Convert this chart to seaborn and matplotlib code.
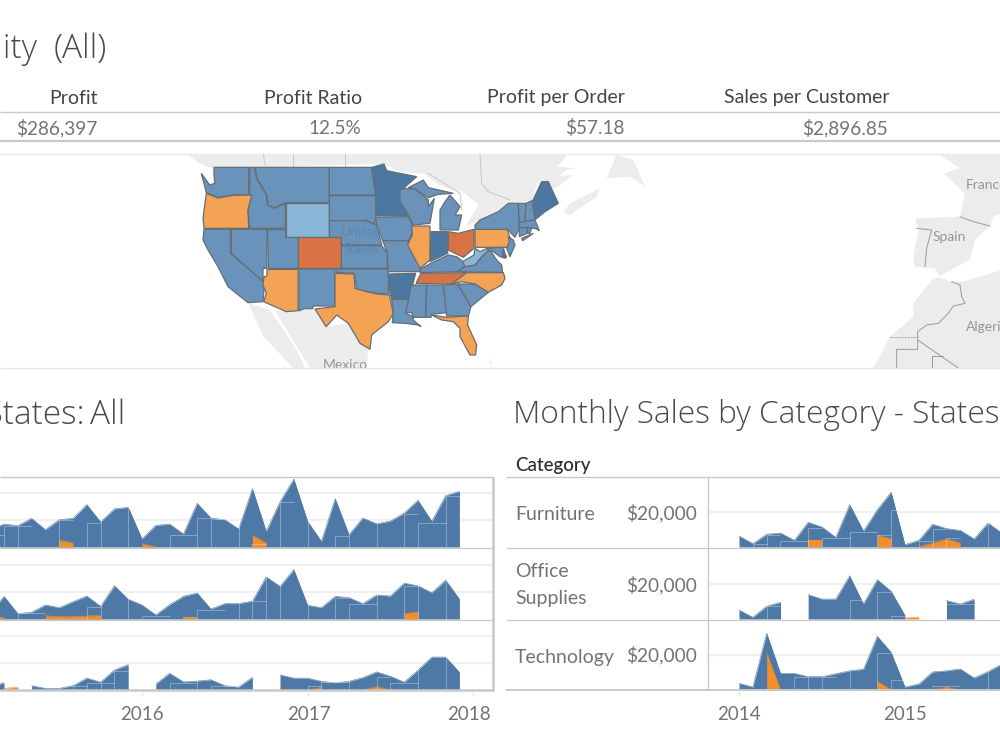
"""Rebuild the cropped superstore overview dashboard with seaborn."""

import matplotlib
matplotlib.use("Agg")
import matplotlib.pyplot as plt
import numpy as np
import seaborn as sns

NAN = float("nan")

# monthly series, in thousands of dollars
LEFT_MONTHS = list(range(-11, 24))  # 0 is Jan 2016
LEFT_BLUE_1 = [6.4, 8.5, 7.9, 10.6, 6.4, 10.1, 10.6, 15.7, 9.3, 14.1, 14.7, 3.0, 8.0, 8.5, 4.8, 16.2, 10.7, 10.1,
               6.7, 21.6, 5.8, 16.7, 25.2, 9.5, 2.1, 17.9, 4.6, 10.7, 8.6, 9.6, 12.6, 17.3, 9.5, 19.0, 20.6]
LEFT_BLUE_2 = [2.2, 8.4, 2.0, 2.5, 5.2, 4.2, 6.4, 8.5, 4.7, 12.3, 7.3, 5.2, 1.5, 5.3, 8.4, 9.6, 3.7, 5.7,
               5.7, 6.6, 15.6, 12.1, 18.3, 5.1, 4.2, 8.4, 7.9, 5.7, 8.9, 8.5, 13.3, 12.3, 9.7, 14.4, 7.4]
LEFT_BLUE_3 = [1.2, 2.7, NAN, 1.6, 0.6, 0.6, 1.6, 4.4, 2.9, 7.4, 9.4, NAN, 2.2, 6.2, 3.0, 3.3, 3.8, 1.6,
               1.1, 4.7, NAN, 5.6, 4.4, 4.4, 3.2, 2.7, 3.2, 4.6, 6.7, 5.1, 2.9, 7.4, 12.2, 12.2, 6.6]
LEFT_ORANGE_1 = {-6: 2.5, -5: 1.5, 0: 1.2, 1: 0.0, 8: 4.3, 9: 1.5}
LEFT_ORANGE_2 = {-11: 0.3, -10: 0.7, -7: 1.2, -6: 0.9, -5: 0.9, -4: 1.1, -3: 1.4, 3: 0.9, 4: 0.9, 19: 2.0, 20: 2.7}
LEFT_ORANGE_3 = {-10: 0.6, -9: 1.1, 12: 0.0, 13: 0.9, 16: 0.0, 17: 1.2, 18: 0.0}

RIGHT_MONTHS = list(range(0, 20))  # 0 is Jan 2014
RIGHT_BLUE_1 = [6.3, 1.9, 7.3, 8.0, 3.8, 14.1, 11.4, 5.5, 24.2, 9.1, 21.3, 31.3, 1.3, 3.8, 13.0, 10.5, 9.5, 4.6, 13.7, 8.0]
RIGHT_BLUE_2 = [5.1, 1.0, 7.3, 9.5, NAN, 13.9, 11.4, 11.4, 24.7, 8.6, 22.5, 15.8, 2.1, NAN, NAN, 10.5, 8.6, 11.3, NAN, NAN]
RIGHT_BLUE_3 = [3.8, 1.7, 32.4, 9.5, 9.5, 7.6, 7.6, 9.3, 11.0, 11.8, 30.7, 21.5, 1.7, 3.4, 10.3, 11.0, 12.0, 6.9, 10.5, 14.7]
RIGHT_ORANGE_1 = {5: 3.8, 6: 3.8, 10: 6.7, 11: 4.7, 13: 0.0, 14: 2.3, 15: 4.6, 16: 2.3}
RIGHT_ORANGE_2 = {12: 0.6, 13: 1.1}
RIGHT_ORANGE_3 = {2: 21.0, 3: 0.0, 10: 5.0, 11: 0.0, 14: 0.0, 15: 1.5, 16: 0.0}

# thin comparison steps: start month, end month, level
LEFT_REF_1 = [(-11, -10, 4.3), (-10, -9, 7.9), (-9, -8, 7.9), (-6, -5, 10.1), (-4, -3, 8.9), (-3, -1, 30), (-1, 0, 30), (2, 4, 4.6),
              (4, 5, 10.7), (5, 7, 10.3), (7, 8, 30), (8, 9, 1.2), (10, 11, 16.7), (12, 14, 30),
              (14, 15, 4.0), (15, 17, 30), (17, 19, 30), (19, 20, 12.2), (20, 22, 8.9), (22, 23, 19.0)]
LEFT_REF_2 = [(-9, -7, 2.2), (-4, -3, 4.6), (-3, -1, 30), (-1, 0, 30), (0, 2, 1.2), (4, 6, 3.5), (7, 8, 30), (8, 9, 6.8), (9, 10, 30),
              (10, 12, 30), (12, 14, 30), (14, 15, 7.8), (15, 17, 5.6), (17, 19, 30), (19, 20, 12.3), (20, 22, 30), (22, 23, 30)]
LEFT_REF_3 = [(-5, -4, 1.6), (-4, -3, 2.7), (-3, -2, 2.7), (-2, -1, 7.1), (2, 4, 2.7), (4, 5, 30), (5, 7, 1.6), (12, 13, 1.4),
              (13, 15, 3.0), (15, 16, 30), (17, 18, 4.8), (18, 20, 2.6), (20, 22, 30), (22, 23, 30)]
RIGHT_REF_1 = [(1, 2, 1.9), (2, 3, 7.0), (3, 5, 3.6), (5, 6, 10.9), (6, 8, 5.1), (8, 10, 8.6), (10, 11, 6.7),
               (11, 12, 21.3), (13, 14, 3.4), (14, 15, 10.3), (15, 16, 5.1), (18, 19, 50)]
RIGHT_REF_2 = [(2, 3, 7.2), (8, 9, 11.0), (10, 11, 15.4), (11, 12, 1.5), (15, 17, 8.6)]
RIGHT_REF_3 = [(4, 5, 7.2), (5, 6, 50), (6, 7, 7.2), (8, 9, 50), (10, 11, 21.1), (11, 12, 5.7), (14, 15, 2.1), (15, 16, 2.1), (18, 19, 50)]

LEFT_GRID = [10, 20]
RIGHT_GRID = [20]
LEFT_YEARS = ["2016", "2017", "2018"]
RIGHT_YEARS = ["2014", "2015"]
CATEGORIES = ["Furniture", "Office\nSupplies", "Technology"]
SCALE_LABEL = "$20,000"

KPI_NAMES = ["Profit", "Profit Ratio", "Profit per Order", "Sales per Customer"]
KPI_VALUES = ["$286,397", "12.5%", "$57.18", "$2,896.85"]

# map outlines, in map units (west block and east block read separately)
STATES_WEST = {
    "WA": [(102, 52), (206, 52), (206, 135), (159, 135), (114, 142), (79, 128), (64, 70), (89, 105), (104, 100), (102, 75)],
    "OR": [(79, 130), (114, 144), (159, 136), (216, 135), (204, 180), (206, 235), (72, 235), (69, 205)],
    "CA": [(72, 238), (151, 238), (151, 310), (254, 398), (249, 455), (204, 458), (144, 410), (114, 350), (84, 300), (69, 270)],
    "NV": [(154, 238), (261, 238), (261, 355), (249, 355), (249, 395), (154, 310)],
    "ID": [(209, 52), (224, 52), (229, 85), (259, 135), (262, 165), (284, 175), (316, 160), (316, 235), (209, 235), (204, 180),
           (216, 135), (209, 135)],
    "MT": [(226, 52), (448, 52), (448, 158), (316, 158), (284, 173), (264, 165), (261, 135), (231, 85)],
    "WY": [(318, 160), (448, 160), (448, 262), (318, 262)],
    "UT": [(261, 238), (316, 238), (316, 262), (355, 262), (355, 355), (263, 355)],
    "CO": [(355, 262), (484, 262), (484, 355), (355, 355)],
    "AZ": [(261, 358), (354, 358), (354, 482), (319, 485), (251, 455), (259, 430), (249, 405), (252, 380), (261, 378)],
    "NM": [(357, 357), (465, 357), (465, 468), (400, 468), (398, 476), (372, 476), (357, 483)],
    "ND": [(448, 52), (575, 52), (587, 135), (448, 135)],
    "SD": [(448, 137), (587, 137), (587, 200), (585, 222), (560, 212), (448, 212)],
    "NE": [(448, 212), (555, 212), (590, 225), (605, 285), (484, 285), (484, 262), (448, 262)],
    "KS": [(484, 287), (605, 287), (622, 310), (622, 355), (484, 355)],
    "OK": [(468, 357), (622, 357), (625, 365), (625, 432), (590, 430), (530, 418), (522, 370), (468, 367)],
    "TX": [(465, 370), (522, 372), (525, 415), (560, 425), (590, 432), (628, 435), (640, 490), (625, 515), (575, 555), (570, 598),
           (540, 580), (505, 520), (470, 495), (448, 520), (438, 530), (405, 477), (465, 470)],
    "MN": [(575, 52), (612, 42), (620, 62), (710, 80), (665, 120), (660, 150), (685, 198), (590, 198), (587, 135)],
    "IA": [(587, 202), (685, 200), (703, 238), (685, 272), (608, 272), (590, 225)],
    "MO": [(608, 272), (685, 272), (705, 325), (722, 350), (718, 365), (625, 365), (622, 310)],
}
STATES_EAST = {
    "AR": [(-35, 372), (47, 370), (27, 445), (-25, 445), (-30, 430)],
    "LA": [(-25, 448), (27, 448), (17, 490), (40, 500), (40, 510), (63, 530), (55, 525), (15, 520), (-23, 518), (-20, 480)],
    "MS": [(33, 405), (80, 405), (77, 502), (40, 502), (35, 488), (17, 488), (27, 445)],
    "AL": [(80, 405), (130, 405), (140, 488), (95, 493), (93, 502), (77, 502)],
    "WI": [(0, 120), (15, 115), (45, 117), (85, 150), (85, 170), (103, 145), (90, 220), (40, 225), (25, 195), (0, 155)],
    "MI_N": [(25, 113), (70, 90), (85, 113), (160, 130), (115, 133), (85, 143), (45, 117)],
    "MI_S": [(120, 240), (120, 180), (135, 155), (150, 135), (180, 170), (165, 195), (185, 195), (175, 240)],
    "IL": [(35, 228), (90, 228), (90, 330), (60, 355), (23, 285), (37, 255)],
    "IN": [(93, 245), (143, 245), (143, 310), (90, 335)],
    "OH": [(145, 245), (175, 250), (222, 238), (222, 295), (190, 322), (145, 300)],
    "KY": [(65, 355), (92, 340), (145, 315), (170, 320), (190, 335), (195, 350), (172, 365), (60, 368)],
    "VA": [(172, 365), (195, 350), (225, 345), (255, 310), (270, 300), (290, 330), (305, 345), (308, 367)],
    "TN": [(48, 400), (63, 370), (200, 368), (155, 402)],
    "GA": [(130, 405), (173, 402), (213, 470), (205, 498), (140, 498)],
    "SC": [(173, 402), (225, 402), (265, 427), (213, 470)],
    "NC": [(155, 402), (200, 368), (310, 368), (315, 385), (305, 405), (265, 427), (225, 402), (185, 395)],
    "WV": [(188, 335), (222, 315), (225, 295), (240, 305), (262, 295), (268, 298), (245, 320), (225, 345), (195, 350)],
    "PA": [(225, 238), (322, 238), (330, 265), (325, 292), (225, 292)],
    "NY": [(225, 238), (225, 225), (240, 210), (295, 185), (325, 160), (355, 160), (358, 235), (345, 262), (322, 238)],
    "VT": [(355, 160), (378, 160), (375, 215), (358, 217)],
    "NH": [(378, 160), (395, 152), (405, 208), (375, 215)],
    "ME": [(398, 152), (425, 95), (445, 95), (475, 160), (435, 185), (407, 208)],
    "MA": [(358, 217), (405, 210), (418, 242), (405, 235), (358, 232)],
    "CT": [(358, 234), (380, 232), (382, 250), (358, 260)],
    "RI": [(382, 232), (395, 235), (390, 250), (383, 250)],
    "LI": [(365, 265), (400, 250), (368, 272)],
    "NJ": [(325, 260), (340, 270), (345, 285), (330, 320), (320, 295), (328, 275)],
    "MD": [(262, 295), (310, 292), (318, 325), (300, 320), (280, 305), (265, 300)],
    "DE": [(307, 300), (320, 320), (308, 323)],
    "FL": [(95, 495), (140, 502), (205, 498), (203, 525), (230, 585), (227, 615), (210, 615), (180, 560), (180, 535), (160, 515),
           (125, 510)],
}
# 0 darkest blue .. 2 lightest blue, 3 orange, 4 dark orange; the rest are mid blue
STATE_TIERS = {"MN": 0, "AR": 0, "IN": 0, "ME": 0, "DE": 0, "WY": 2, "WV": 2, "OR": 3, "AZ": 3, "TX": 3, "IL": 3, "PA": 3,
               "NC": 3, "FL": 3, "CO": 4, "OH": 4, "TN": 4}

LAND_WEST = [
    [(20, 12), (60, 40), (95, 55), (612, 42), (660, 65), (735, 72), (770, 100), (810, 118), (850, 125), (895, 165), (860, 225),
     (835, 238), (910, 205), (960, 180), (995, 160), (1055, 150), (1075, 95), (1100, 80), (1135, 80), (1160, 60), (1190, 55),
     (1130, 50), (1150, 30), (1160, 12)],
    [(1075, 100), (1100, 80), (1180, 75), (1140, 105), (1105, 125), (1130, 163)],
    [(1150, 185), (1170, 160), (1260, 115), (1250, 140), (1170, 195)],
    [(1280, 85), (1310, 15), (1360, 30), (1395, 110), (1350, 80)],
    [(285, 482), (320, 483), (400, 476), (440, 530), (505, 520), (540, 575), (565, 598), (560, 654), (390, 654)],
    [(205, 460), (270, 480), (350, 600), (375, 654), (340, 654), (250, 560)],
    [(925, 620), (938, 645), (930, 640)],
]
LAND_EUROPE = [
    [(265, 12), (450, 12), (450, 190), (430, 200), (420, 228), (370, 215), (330, 200), (345, 130), (280, 70), (330, 55)],
    [(195, 205), (330, 200), (370, 215), (420, 228), (375, 270), (360, 330), (310, 355), (270, 378), (255, 355), (195, 350),
     (190, 320), (205, 240)],
    [(270, 382), (300, 395), (340, 395), (450, 362), (450, 654), (70, 654), (100, 600), (120, 560), (190, 500), (190, 460), (250, 385)],
]
BORDER_LINES = [
    [(250, 12), (255, 45)], [(338, 12), (338, 48)], [(495, 12), (495, 48)],
    [(900, 12), (905, 100), (925, 125), (990, 150)],
    [(745, 70), (840, 130), (845, 180)],
]
BORDER_LINES_EUROPE = [
    [(330, 200), (370, 215), (420, 228)],
    [(200, 235), (245, 240), (230, 295), (225, 350)],
    [(305, 395), (330, 405), (335, 440), (345, 460), (310, 468), (295, 490), (265, 520), (230, 525), (203, 545), (203, 598),
     (140, 598), (140, 654)],
    [(203, 570), (325, 654)],
    [(245, 654), (245, 618), (280, 618)],
]
MAP_LABELS = ["Mexico", "Spain", "France", "Algeria"]

BLUE = "#4e79a7"
ORANGE = "#f28e2b"
TIER_COLORS = ["#4b77a1", "#6a93bb", "#8ab6d9", "#f4a254", "#d97343"]
RULE = "#c8c8c8"
TEXT = "#737373"
DARK_TEXT = "#444444"
UI_FONT = ["Lato", "DejaVu Sans"]
TITLE_FONT = ["Open Sans", "DejaVu Sans"]


def px_axes(fig, left, top, right, bottom, **kwargs):
    """Axes placed by its pixel edges on the 1000x750 canvas."""
    return fig.add_axes([left / 1000, 1 - bottom / 750, (right - left) / 1000, (bottom - top) / 750], **kwargs)


def draw_area(ax, months, values, color, zorder):
    months = np.asarray(months, dtype=float)
    values = np.asarray(values, dtype=float)
    ok = ~np.isnan(values)
    breaks = np.flatnonzero(np.diff(ok.astype(int)))
    for run in np.split(np.arange(len(values)), breaks + 1):
        if not ok[run[0]] or len(run) < 2:
            continue
        ax.fill_between(months[run], 0, values[run], color=color, linewidth=0, zorder=zorder)
        sns.lineplot(x=months[run], y=values[run], ax=ax, color=color, linewidth=0.4, errorbar=None, zorder=zorder)


def draw_panel(fig, box, xlim, scale, months, blue, orange, ref, grid):
    left, top, right, bottom = box
    ax = px_axes(fig, left, top, right, bottom)
    ax.patch.set_alpha(0)
    ax.set_xlim(*xlim)
    ax.set_ylim(0, (bottom - top) / scale)
    ax.set_yticks(grid)
    ax.set_xticks([])
    ax.grid(axis="y", color="#f0f0f0", linewidth=1.6)
    ax.set_axisbelow(True)
    ax.tick_params(left=False, labelleft=False)
    sns.despine(ax=ax, left=True, bottom=True)
    draw_area(ax, months, blue, BLUE, 2)
    # orange pieces sit in separate runs of consecutive months
    keys = sorted(orange)
    full = [orange.get(m, NAN) for m in range(keys[0], keys[-1] + 1)]
    draw_area(ax, range(keys[0], keys[-1] + 1), full, ORANGE, 3)
    for start, end, level in ref:
        ax.hlines(level, start, end, color="white", alpha=0.32, linewidth=0.7, zorder=4)
        ax.vlines(start, 0, level, color="white", alpha=0.32, linewidth=0.7, zorder=4)
    ax.set_xlabel("")
    ax.set_ylabel("")
    return ax


def draw_map(fig):
    ax = px_axes(fig, 0, 154, 1000, 368)
    # map units are 3 per pixel, the east block starts 660 further along, Europe 2010
    ax.set_xlim(-540, 2460)
    ax.set_ylim(654, 12)
    ax.axis("off")
    land = "#ececec"
    for shape in LAND_WEST:
        ax.fill(*zip(*shape), color=land, linewidth=0, zorder=1)
    for shape in LAND_EUROPE:
        xs, ys = zip(*shape)
        ax.fill(np.array(xs) + 2010, ys, color=land, linewidth=0, zorder=1)
    for line in BORDER_LINES:
        ax.plot(*zip(*line), color="#c8c8c8", linewidth=0.7, zorder=2)
    for line in BORDER_LINES_EUROPE:
        xs, ys = zip(*line)
        ax.plot(np.array(xs) + 2010, ys, color="#9a9a9a", linewidth=0.7, zorder=2)
    ax.plot([2130, 2213], [562, 562], color="#a5a5a5", linewidth=0.7, linestyle=(0, (2, 1)), zorder=2)

    for offset, states in ((0, STATES_WEST), (660, STATES_EAST)):
        for name, shape in states.items():
            xs, ys = zip(*shape)
            tier = STATE_TIERS.get(name, 1)
            ax.fill(np.array(xs) + offset, ys, facecolor=TIER_COLORS[tier], edgecolor="#666e75", linewidth=0.9, zorder=3)

    for label, x, y in ((MAP_LABELS[0], 495, 645), (MAP_LABELS[1], 2258, 262), (MAP_LABELS[2], 2358, 105), (MAP_LABELS[3], 2357, 531)):
        ha = "center" if label == "Mexico" else "left"
        ax.text(x, y, label, ha=ha, va="center", fontsize=10, color="#969696", zorder=5, clip_on=True)
    ax.text(545, 245, "United", ha="center", va="center", fontsize=10, color="#5f86ae", zorder=5)
    ax.text(545, 298, "States", ha="center", va="center", fontsize=10, color="#5f86ae", zorder=5)


def main():
    sns.set_theme(style="white")
    plt.rcParams["font.family"] = UI_FONT
    fig = plt.figure(figsize=(10, 7.5), dpi=100, facecolor="white")

    page = px_axes(fig, 0, 0, 1000, 750)
    page.set_xlim(0, 1000)
    page.set_ylim(750, 0)
    page.axis("off")

    title_style = dict(va="center", fontweight="light", color="#4a4a4a", family=TITLE_FONT)
    page.text(37, 49, "Executive Overview - Profitability", ha="right", fontsize=24, **title_style)
    page.text(107, 49, "(All)", ha="right", fontsize=24, **title_style)
    page.text(84, 415, "Monthly Sales by Segment - States:", ha="right", fontsize=24, **title_style)
    page.text(125, 415, "All", ha="right", fontsize=24, **title_style)
    page.text(513, 415, "Monthly Sales by Category - States: All", ha="left", fontsize=22.8, **title_style)

    # KPI table
    for right, name, value in zip((98, 362, 625, 889), KPI_NAMES, KPI_VALUES):
        page.text(right, 98, name, ha="right", va="center", fontsize=14, color=DARK_TEXT)
        page.text(right - 1, 128, value, ha="right", va="center", fontsize=13.7, color=TEXT)
    page.hlines(112, 0, 1000, color=RULE, linewidth=1)
    page.hlines(141, 0, 1000, color=RULE, linewidth=1.6)
    page.hlines([154, 368], 0, 1000, color="#e6e6e6", linewidth=1)

    draw_map(fig)

    # left small multiples
    left_xlim = (-142 / 13.8, 351 / 13.8)
    rows = ((477, 547), (548, 619), (619, 690))
    left_rows = zip(rows, (LEFT_BLUE_1, LEFT_BLUE_2, LEFT_BLUE_3), (LEFT_ORANGE_1, LEFT_ORANGE_2, LEFT_ORANGE_3), (LEFT_REF_1, LEFT_REF_2, LEFT_REF_3))
    for (top, bottom), blue, orange, ref in left_rows:
        draw_panel(fig, (0, top, 493, bottom), left_xlim, 2.7, LEFT_MONTHS, blue, orange, ref, LEFT_GRID)

    # right small multiples
    right_xlim = (-31 / 13.83, 261 / 13.83)
    right_rows = zip(rows, (RIGHT_BLUE_1, RIGHT_BLUE_2, RIGHT_BLUE_3), (RIGHT_ORANGE_1, RIGHT_ORANGE_2, RIGHT_ORANGE_3), (RIGHT_REF_1, RIGHT_REF_2, RIGHT_REF_3))
    for (top, bottom), blue, orange, ref in right_rows:
        draw_panel(fig, (708, top, 1000, bottom), right_xlim, 1.75, RIGHT_MONTHS, blue, orange, ref, RIGHT_GRID)

    # frames and row rules go on top of the panels
    frame = px_axes(fig, 0, 0, 1000, 750)
    frame.patch.set_alpha(0)
    frame.set_xlim(0, 1000)
    frame.set_ylim(750, 0)
    frame.axis("off")
    frame.hlines(477, 0, 493, color=RULE, linewidth=1)
    frame.hlines([547.5, 619.5], 0, 493, color=RULE, linewidth=0.9)
    frame.hlines(690, 0, 493, color=RULE, linewidth=1.8)
    frame.vlines(493, 477, 691, color=RULE, linewidth=1.8)
    frame.hlines(477, 506, 1000, color=RULE, linewidth=1)
    frame.hlines([547.5, 619.5], 506, 1000, color=RULE, linewidth=0.9)
    frame.hlines(690, 506, 1000, color=RULE, linewidth=1.4)
    frame.vlines(708, 477, 690, color=RULE, linewidth=1)
    frame.vlines([142, 308, 473, 739, 905], 691, 696, color="#e8e8e8", linewidth=1)

    for x, label in zip((142, 309, 469), LEFT_YEARS):
        frame.text(x, 714, label, ha="center", va="center", fontsize=13.5, color=TEXT)
    for x, label in zip((739, 905), RIGHT_YEARS):
        frame.text(x, 714, label, ha="center", va="center", fontsize=13.5, color=TEXT)

    frame.text(515, 465, "Category", ha="left", va="center", fontsize=13.5, color="#2b2b2b", fontweight="medium")
    for y, label in zip((514, 585, 657), CATEGORIES):
        frame.text(515, y, label, ha="left", va="center", fontsize=14, color=TEXT, linespacing=1.7)
    for y in (513, 585, 655):
        frame.text(697, y, SCALE_LABEL, ha="right", va="center", fontsize=13.8, color=TEXT)

    fig.savefig("out.png", dpi=100)


if __name__ == "__main__":
    main()
